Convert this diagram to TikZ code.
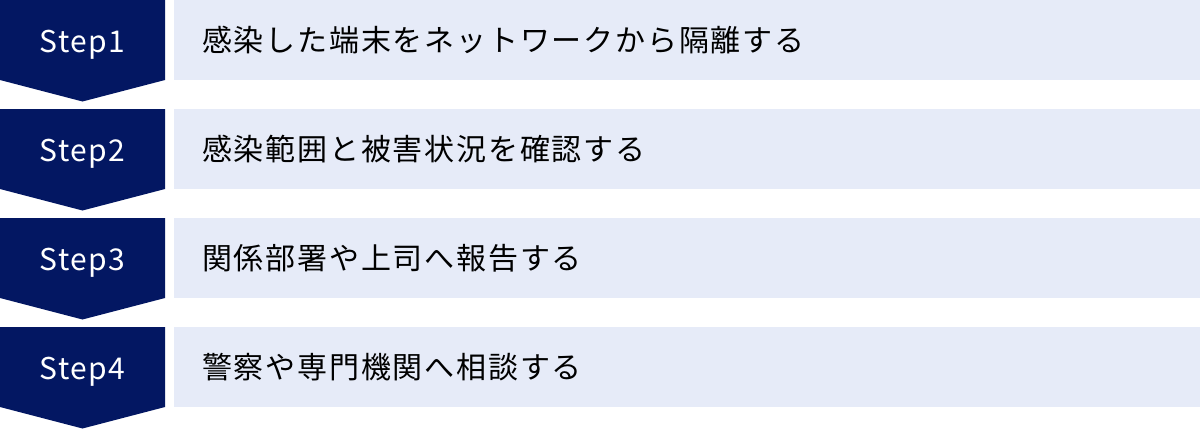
\documentclass[tikz,border=0pt]{standalone}
\usepackage{fontspec}
\setmainfont{Noto Sans CJK JP}[LetterSpace=5]
\newfontfamily\jpbar{Noto Sans CJK JP}[LetterSpace=6]
\definecolor{navy}{HTML}{031762}
\definecolor{pale}{HTML}{E6EBF8}
\tikzset{
  stepshape/.style={fill=navy, draw=none},
  steplabel/.style={text=white, font=\fontsize{30}{36}\selectfont, inner sep=0pt, anchor=base},
  bar/.style={fill=pale, draw=none, minimum width=1026pt, minimum height=80pt, anchor=north west,
    text width=970pt, inner xsep=28pt, inner ysep=0pt, align=left, text=black,
    font=\jpbar\fontsize{30}{36}\selectfont}
}
\begin{document}
\begin{tikzpicture}[x=1pt,y=-1pt]
\useasboundingbox (0,0) rectangle (1200,429);
\foreach \i/\t in {1/{感染した端末をネットワークから隔離する},
                   2/{感染範囲と被害状況を確認する},
                   3/{関係部署や上司へ報告する},
                   4/{警察や専門機関へ相談する}}{
  \pgfmathsetmacro{\top}{(\i-1)*109}
  \fill[stepshape] (0,\top) -- (165,\top) -- (165,\top+80) -- (82.5,\top+101.5) -- (0,\top+80) -- cycle;
  \node[steplabel] (s\i) at (82.5,\top+52) {Step\i};
  \node[bar] (b\i) at (174,\top) {\t};
}
\end{tikzpicture}
\end{document}
